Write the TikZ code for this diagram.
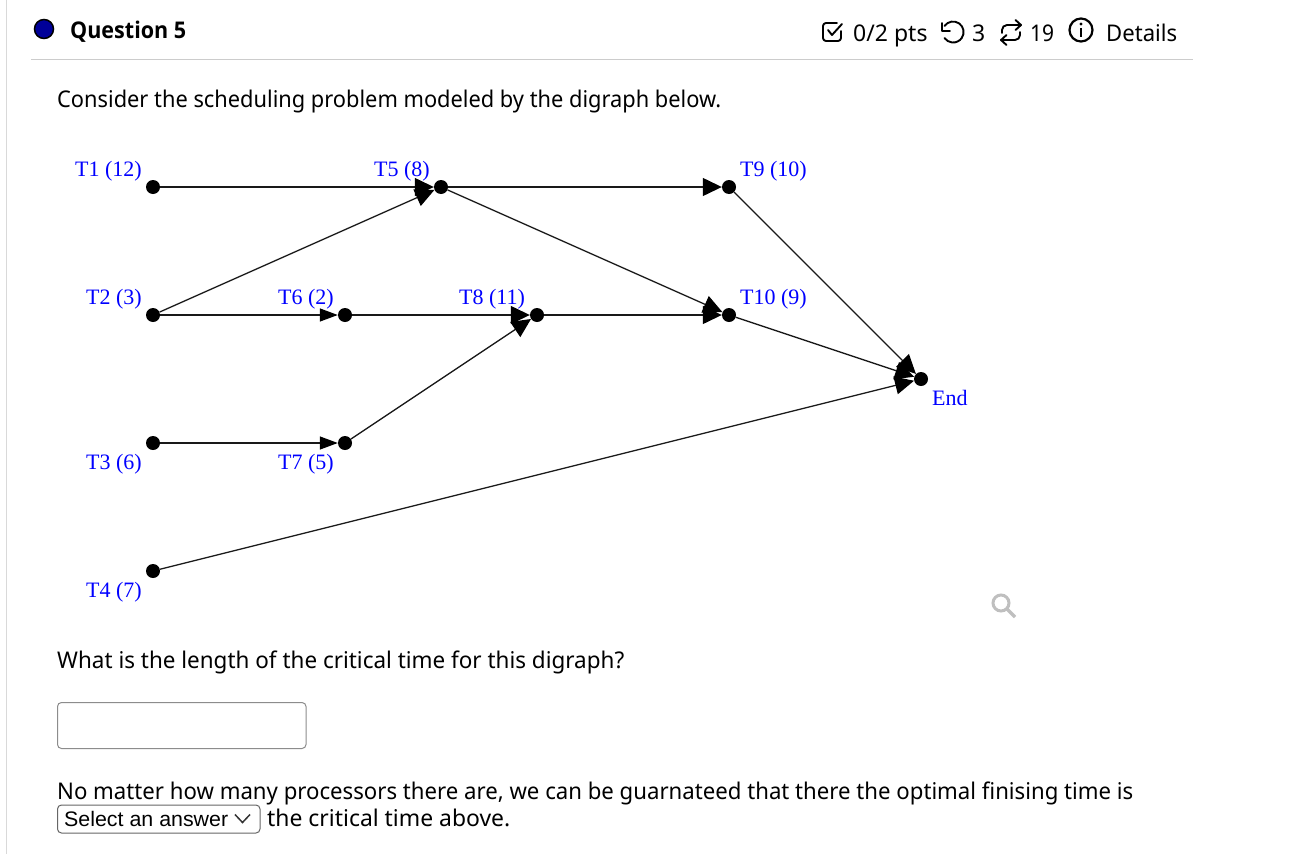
\documentclass[tikz,border=0pt]{standalone}
\usepackage{fontspec}
\usepackage{graphicx}
\usetikzlibrary{arrows.meta}
\setmainfont{Noto Sans}
\newfontfamily\headf{Open Sans}
\newfontfamily\serifn{Liberation Serif}
\newfontfamily\arialn{Liberation Sans}
\newcommand{\fitw}[2]{\resizebox{#1}{\height}{#2}}
\tikzset{
  dot/.style={circle,fill=black,inner sep=0pt,minimum size=14pt},
  edge/.style={draw=black!90,line width=1.3pt,-{Triangle[length=19pt,width=18pt,color=black]}},
  narrowedge/.style={draw=black!90,line width=1.3pt,-{Triangle[length=18pt,width=13pt,color=black]}},
  lab/.style={text=blue,font=\serifn\fontsize{22}{24}\selectfont,inner sep=0pt,anchor=base west},
  body/.style={text=black,font=\fontsize{23}{26}\selectfont,inner sep=0pt,anchor=base west},
  head/.style={text=black,font=\headf\bfseries\fontsize{23}{26}\selectfont,inner sep=0pt,anchor=base west},
  icon/.style={draw=black,line width=1.9pt,line cap=round,line join=round},
  box/.style={draw=black!45,line width=1pt,rounded corners=4pt,outer sep=0pt,inner sep=0pt,anchor=north west}
}
\begin{document}
\begin{tikzpicture}[x=1pt,y=-1pt]
\useasboundingbox (0,0) rectangle (1296,854);
\fill[white] (0,0) rectangle (1296,854);
\draw[black!15,line width=1.2pt] (6.5,0) -- (6.5,854);
\draw[black!20,line width=1.2pt] (31,59.5) -- (1193,59.5);
% header
\node[circle,fill=blue!60!black,draw=black,line width=1.5pt,minimum size=19pt,inner sep=0pt] (status) at (44,29) {};
\node[head] (q) at (70,38) {\fitw{116pt}{Question 5}};
% check box icon
\draw[icon] (837,23) -- (826,23) arc[start angle=270,end angle=180,radius=3] -- (823,38) arc[start angle=180,end angle=90,radius=3] -- (838,41) arc[start angle=90,end angle=0,radius=3] -- (841,31);
\draw[icon] (828,30) -- (832,35) -- (842,24);
\node[body] (pts) at (853,41) {0/2 pts};
% retry icon
\draw[icon] (944.5,26) arc[start angle=215,end angle=505,radius=10.5];
\draw[icon] (942,23) -- (942,31) -- (950,31);
\node[body] (n3) at (972,41) {3};
% attempts icon
\draw[icon] (1002,33) -- (1002,30) arc[start angle=180,end angle=270,radius=5] -- (1021,25);
\draw[icon] (1015.5,20) -- (1021,25) -- (1015.5,30);
\draw[icon] (1020,32) -- (1020,35) arc[start angle=0,end angle=90,radius=5] -- (1001,40);
\draw[icon] (1006.5,35) -- (1001,40) -- (1006.5,45);
\node[body] (n19) at (1030,41) {\fitw{24pt}{19}};
% info icon
\draw[icon,line width=2.2pt] (1081,30) circle[radius=11.5];
\fill (1081,24) circle[radius=1.7];
\draw[icon,line width=2.4pt,line cap=butt] (1081,28) -- (1081,37);
\node[body] (det) at (1106,41) {\fitw{71pt}{Details}};
% text
\node[body] (t1) at (57,107) {\fitw{664pt}{Consider the scheduling problem modeled by the digraph below.}};
\node[body] (t2) at (57,668) {\fitw{567pt}{What is the length of the critical time for this digraph?}};
\node[box,minimum width=248.5pt,minimum height=46pt] (inp) at (57.5,702.5) {};
\node[body] (t3) at (57,799) {\fitw{1076pt}{No matter how many processors there are, we can be guarnateed that there the optimal finising time is}};
\node[box,draw=black!60,minimum width=202.5pt,minimum height=28pt] (sel) at (57.5,805) {};
\node[text=black,font=\arialn\fontsize{21}{24}\selectfont,inner sep=0pt,anchor=base west] (seltxt) at (64,826) {\fitw{164pt}{Select an answer}};
\draw[line width=1.5pt,black!80] (235,814.5) -- (242.5,822.5) -- (250,814.5);
\node[body] (t4) at (267,826) {\fitw{243pt}{the critical time above.}};
% magnifier
\draw[black!25,line width=3pt] (1001,603) circle[radius=8];
\draw[black!25,line width=3.5pt] (1007,609) -- (1015,617);
% graph
\node[dot] (T1) at (153,187) {};
\node[dot] (T2) at (153,315) {};
\node[dot] (T3) at (153,443) {};
\node[dot] (T4) at (153,571) {};
\node[dot] (T5) at (441,187) {};
\node[dot] (T6) at (345,315) {};
\node[dot] (T7) at (345,443) {};
\node[dot] (T8) at (537,315) {};
\node[dot] (T9) at (729,187) {};
\node[dot] (T10) at (729,315) {};
\node[dot] (End) at (921,379) {};
\draw[edge] (T1) -- (T5);
\draw[edge] (T5) -- (T9);
\draw[edge] (T2) -- (T5);
\draw[edge] (T5) -- (T10);
\draw[narrowedge] (T2) -- (T6);
\draw[edge] (T6) -- (T8);
\draw[edge] (T8) -- (T10);
\draw[narrowedge] (T3) -- (T7);
\draw[edge] (T7) -- (T8);
\draw[edge] (T9) -- (End);
\draw[edge] (T10) -- (End);
\draw[edge] (T4) -- (End);
\node[lab] (L1) at (75,176) {T1 (12)};
\node[lab] (L2) at (86,304) {T2 (3)};
\node[lab] (L3) at (86,469) {T3 (6)};
\node[lab] (L4) at (86,597) {T4 (7)};
\node[lab] (L5) at (374,176) {T5 (8)};
\node[lab] (L6) at (278,304) {T6 (2)};
\node[lab] (L7) at (278,469) {T7 (5)};
\node[lab] (L8) at (459,304) {T8 (11)};
\node[lab] (L9) at (740,176) {T9 (10)};
\node[lab] (L10) at (740,304) {T10 (9)};
\node[lab] (LE) at (932,405) {End};
\end{tikzpicture}
\end{document}
